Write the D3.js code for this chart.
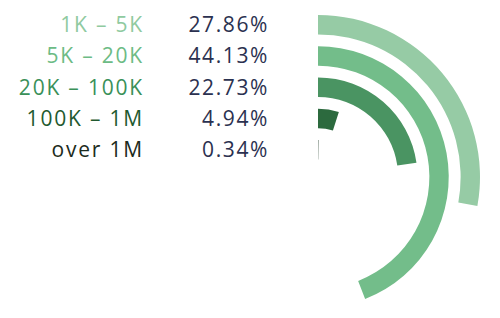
<!DOCTYPE html>
<html>
<head>
<meta charset="utf-8">
<script src="https://cdn.jsdelivr.net/npm/d3@7"></script>
<style>
html,body{margin:0;padding:0;background:#fff;}
svg{display:block;}
text{font-family:"Open Sans",sans-serif;}
</style>
</head>
<body>
<svg id="chart" width="500" height="318"></svg>
<script>
const categories = ["1K – 5K", "5K – 20K", "20K – 100K", "100K – 1M", "over 1M"];
const values = [27.86, 44.13, 22.73, 4.94, 0.34];
const valueLabels = ["27.86%", "44.13%", "22.73%", "4.94%", "0.34%"];
const barColors = ["#96cba5", "#73bd8a", "#4a9462", "#2c6a3e", "#8c9a90"];
const labelColors = ["#8fcaa0", "#6cbb85", "#3a9058", "#1f5a30", "#1c2b20"];

const svg = d3.select("#chart");
const cx = 318, cy = 177;

const r = d3.scaleBand().domain(categories).range([162, 17.6]).paddingInner(0.38).paddingOuter(0);
const a = d3.scaleLinear().domain([0, 100]).range([0, 2 * Math.PI]);

const g = svg.append("g").attr("transform", `translate(${cx},${cy})`);
const arc = d3.arc()
  .innerRadius(d => r(d.c))
  .outerRadius(d => r(d.c) + r.bandwidth())
  .startAngle(0)
  .endAngle(d => a(d.v));

const data = categories.map((c, i) => ({c, v: values[i], i}));

g.selectAll("path").data(data).join("path")
  .attr("d", arc)
  .attr("fill", d => barColors[d.i]);

const rowY = d => cy - (r(d.c) + r.bandwidth() / 2) + 7.5;

svg.selectAll("text.lab").data(data).join("text")
  .attr("class", "lab")
  .attr("x", 144)
  .attr("y", rowY)
  .attr("text-anchor", "end")
  .attr("font-size", 21)
  .attr("font-weight", 500)
  .attr("letter-spacing", 1.8)
  .attr("fill", d => labelColors[d.i])
  .text(d => d.c);

svg.selectAll("text.val").data(data).join("text")
  .attr("class", "val")
  .attr("x", 269)
  .attr("y", rowY)
  .attr("text-anchor", "end")
  .attr("font-size", 21)
  .attr("font-weight", 500)
  .attr("letter-spacing", 1.6)
  .attr("fill", "#2b3150")
  .text(d => valueLabels[d.i]);
</script>
</body>
</html>
